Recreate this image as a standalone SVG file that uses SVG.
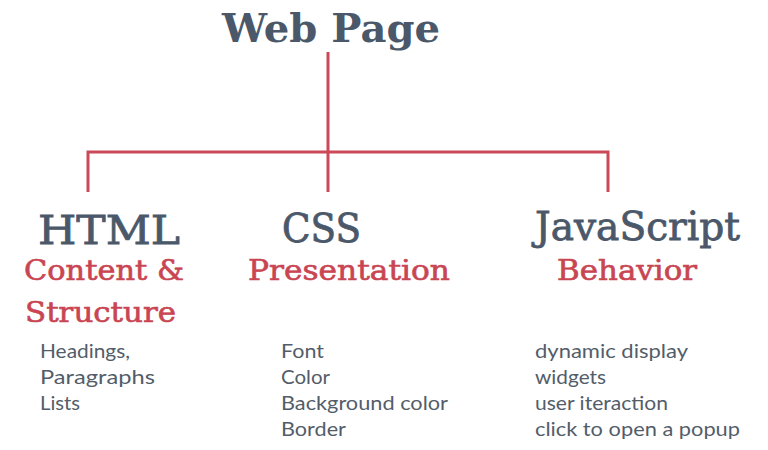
<svg xmlns="http://www.w3.org/2000/svg" width="768" height="450" viewBox="0 0 768 450">
<style>
.title{font-family:"DejaVu Serif","Liberation Serif",serif;font-weight:bold;fill:#4b5869;font-size:40px}
.head{font-family:"DejaVu Serif","Liberation Serif",serif;fill:#4b5869;stroke:#4b5869;stroke-width:0.8;font-size:39px}
.sub{font-family:"DejaVu Serif","Liberation Serif",serif;fill:#c94552;stroke:#c94552;stroke-width:0.6;font-size:27px}
.item{font-family:"Lato","Noto Sans",sans-serif;fill:#535d69;font-size:19px}
.conn{stroke:#cc4a58;stroke-width:3;fill:none}
</style>
<rect width="768" height="450" fill="#ffffff"/>
<g id="connectors">
<path class="conn" d="M328 52V152M88 192V152H608V192M328 152V192"/>
</g>
<g id="webpage"><text class="title" x="222" y="42" textLength="218" lengthAdjust="spacingAndGlyphs">Web Page</text></g>
<g id="html">
<text class="head" x="38" y="244" textLength="142" lengthAdjust="spacingAndGlyphs">HTML</text>
<text class="sub" x="24" y="280" textLength="160" lengthAdjust="spacingAndGlyphs">Content &amp;</text>
<text class="sub" x="25" y="322" textLength="151" lengthAdjust="spacingAndGlyphs">Structure</text>
<text class="item" x="40" y="358" textLength="90" lengthAdjust="spacingAndGlyphs">Headings,</text>
<text class="item" x="40" y="384" textLength="115" lengthAdjust="spacingAndGlyphs">Paragraphs</text>
<text class="item" x="40" y="410" textLength="40" lengthAdjust="spacingAndGlyphs">Lists</text>
</g>
<g id="css">
<text class="head" x="282" y="242" textLength="79" lengthAdjust="spacingAndGlyphs">CSS</text>
<text class="sub" x="248" y="280" textLength="202" lengthAdjust="spacingAndGlyphs">Presentation</text>
<text class="item" x="281" y="358" textLength="43" lengthAdjust="spacingAndGlyphs">Font</text>
<text class="item" x="281" y="384" textLength="49" lengthAdjust="spacingAndGlyphs">Color</text>
<text class="item" x="281" y="410" textLength="167" lengthAdjust="spacingAndGlyphs">Background color</text>
<text class="item" x="281" y="436" textLength="65" lengthAdjust="spacingAndGlyphs">Border</text>
</g>
<g id="js">
<text class="head" x="535" y="240" textLength="205" lengthAdjust="spacingAndGlyphs">JavaScript</text>
<text class="sub" x="557" y="280" textLength="140" lengthAdjust="spacingAndGlyphs">Behavior</text>
<text class="item" x="535" y="358" textLength="153" lengthAdjust="spacingAndGlyphs">dynamic display</text>
<text class="item" x="535" y="384" textLength="71" lengthAdjust="spacingAndGlyphs">widgets</text>
<text class="item" x="535" y="410" textLength="133" lengthAdjust="spacingAndGlyphs">user iteraction</text>
<text class="item" x="535" y="436" textLength="205" lengthAdjust="spacingAndGlyphs">click to open a popup</text>
</g>
</svg>
